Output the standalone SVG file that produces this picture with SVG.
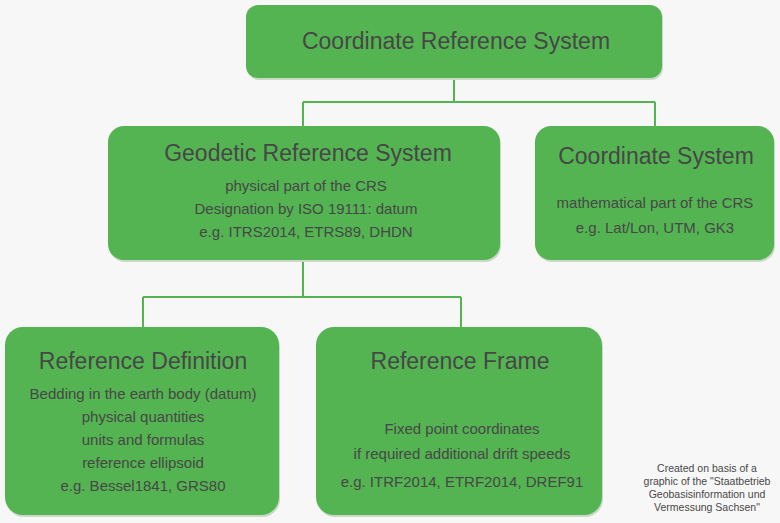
<svg xmlns="http://www.w3.org/2000/svg" width="780" height="523" viewBox="0 0 780 523">
<defs>
<style>
.box{fill:#54b452;}
.sh{fill:#c8d9c6;}
.t{font-family:"Liberation Sans",Arial,sans-serif;fill:#474747;text-anchor:middle;}
.h{font-size:23px;}
.b{font-size:15px;}
.c{font-size:10.5px;}
.ln{stroke:#54b452;stroke-width:2;fill:none;}
</style>
</defs>
<rect width="780" height="523" fill="#f7f7f7"/>
<g id="connectors">
<path class="ln" d="M454 78V102M303 102H655M303 102V126M655 102V126"/>
<path class="ln" d="M303 260V297M143 297H461M143 297V327M461 297V327"/>
</g>
<g id="crs">
<rect class="sh" x="247" y="7" width="416" height="73" rx="12"/>
<rect class="box" x="246" y="5" width="416" height="73" rx="12"/>
<text class="t h" x="456" y="49">Coordinate Reference System</text>
</g>
<g id="geodetic">
<rect class="sh" x="109" y="128" width="392" height="134" rx="16"/>
<rect class="box" x="108" y="126" width="392" height="134" rx="16"/>
<text class="t h" x="308" y="161">Geodetic Reference System</text>
<text class="t b" x="306" y="191">physical part of the CRS</text>
<text class="t b" x="306" y="214">Designation by ISO 19111: datum</text>
<text class="t b" x="306" y="237">e.g. ITRS2014, ETRS89, DHDN</text>
</g>
<g id="cs">
<rect class="sh" x="536" y="128" width="239" height="134" rx="16"/>
<rect class="box" x="535" y="126" width="239" height="134" rx="16"/>
<text class="t h" x="656" y="164">Coordinate System</text>
<text class="t b" x="655" y="208">mathematical part of the CRS</text>
<text class="t b" x="655" y="233">e.g. Lat/Lon, UTM, GK3</text>
</g>
<g id="refdef">
<rect class="sh" x="6" y="329" width="274" height="188" rx="18"/>
<rect class="box" x="5" y="327" width="274" height="188" rx="18"/>
<text class="t h" x="143" y="369">Reference Definition</text>
<text class="t b" x="143" y="399">Bedding in the earth body (datum)</text>
<text class="t b" x="143" y="422">physical quantities</text>
<text class="t b" x="143" y="445">units and formulas</text>
<text class="t b" x="143" y="468">reference ellipsoid</text>
<text class="t b" x="143" y="491">e.g. Bessel1841, GRS80</text>
</g>
<g id="refframe">
<rect class="sh" x="317" y="329" width="286" height="188" rx="18"/>
<rect class="box" x="316" y="327" width="286" height="188" rx="18"/>
<text class="t h" x="460" y="369">Reference Frame</text>
<text class="t b" x="462" y="434">Fixed point coordinates</text>
<text class="t b" x="462" y="459">if required additional drift speeds</text>
<text class="t b" x="462" y="487">e.g. ITRF2014, ETRF2014, DREF91</text>
</g>
<g id="credit">
<text class="t c" x="707" y="472">Created on basis of a</text>
<text class="t c" x="707" y="485">graphic of the "Staatbetrieb</text>
<text class="t c" x="707" y="498">Geobasisinformation und</text>
<text class="t c" x="707" y="511">Vermessung Sachsen"</text>
</g>
</svg>
